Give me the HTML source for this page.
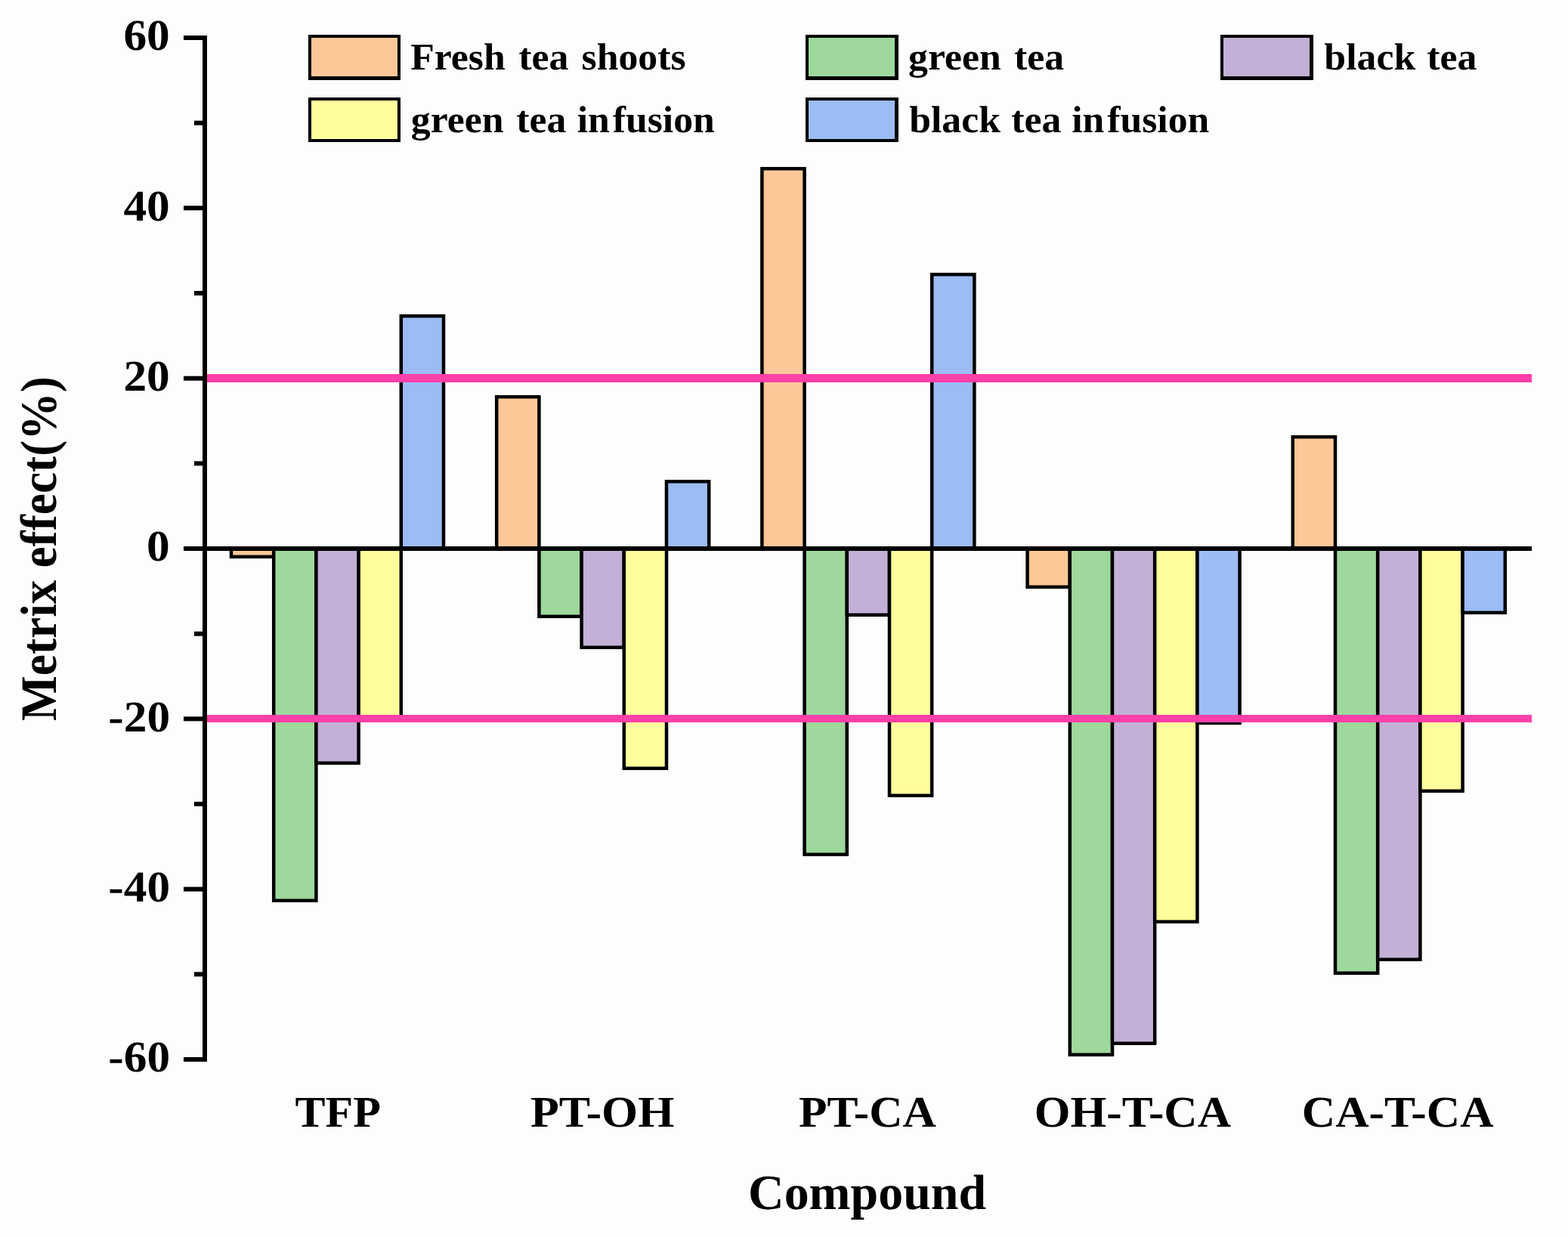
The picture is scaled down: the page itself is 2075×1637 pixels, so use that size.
<!DOCTYPE html>
<html lang="en">
<head>
<meta charset="utf-8">
<title>Metrix effect(%) by Compound</title>
<style>
html,body{margin:0;padding:0;background:#fdfdfd;}
body{width:2075px;height:1637px;overflow:hidden;}
svg{display:block;}
.t{font-family:"Liberation Serif",serif;font-weight:bold;fill:#000;text-rendering:geometricPrecision;}
</style>
</head>
<body>
<svg width="2075" height="1637" viewBox="0 0 2075 1637">
<rect width="2075" height="1637" fill="#fdfdfd"/>
<g stroke="#000" stroke-width="4.5" stroke-linejoin="miter">
<rect x="306.0" y="726.0" width="56.2" height="10.8" fill="#fcc898"/>
<rect x="362.2" y="726.0" width="56.2" height="465.8" fill="#9ed89c"/>
<rect x="418.4" y="726.0" width="56.2" height="283.8" fill="#c2b0d6"/>
<rect x="474.6" y="726.0" width="56.2" height="224.8" fill="#fefe9c"/>
<rect x="530.8" y="418.2" width="56.2" height="307.8" fill="#9cbcf4"/>
<rect x="657.2" y="525.2" width="56.2" height="200.8" fill="#fcc898"/>
<rect x="713.4" y="726.0" width="56.2" height="89.8" fill="#9ed89c"/>
<rect x="769.6" y="726.0" width="56.2" height="130.8" fill="#c2b0d6"/>
<rect x="825.8" y="726.0" width="56.2" height="290.8" fill="#fefe9c"/>
<rect x="882.0" y="637.2" width="56.2" height="88.8" fill="#9cbcf4"/>
<rect x="1008.4" y="223.2" width="56.2" height="502.8" fill="#fcc898"/>
<rect x="1064.6" y="726.0" width="56.2" height="404.8" fill="#9ed89c"/>
<rect x="1120.8" y="726.0" width="56.2" height="87.8" fill="#c2b0d6"/>
<rect x="1177.0" y="726.0" width="56.2" height="326.8" fill="#fefe9c"/>
<rect x="1233.2" y="363.2" width="56.2" height="362.8" fill="#9cbcf4"/>
<rect x="1359.6" y="726.0" width="56.2" height="50.8" fill="#fcc898"/>
<rect x="1415.8" y="726.0" width="56.2" height="669.8" fill="#9ed89c"/>
<rect x="1472.0" y="726.0" width="56.2" height="654.8" fill="#c2b0d6"/>
<rect x="1528.2" y="726.0" width="56.2" height="493.8" fill="#fefe9c"/>
<rect x="1584.4" y="726.0" width="56.2" height="230.8" fill="#9cbcf4"/>
<rect x="1710.8" y="578.2" width="56.2" height="147.8" fill="#fcc898"/>
<rect x="1767.0" y="726.0" width="56.2" height="561.8" fill="#9ed89c"/>
<rect x="1823.2" y="726.0" width="56.2" height="543.8" fill="#c2b0d6"/>
<rect x="1879.4" y="726.0" width="56.2" height="320.8" fill="#fefe9c"/>
<rect x="1935.6" y="726.0" width="56.2" height="84.8" fill="#9cbcf4"/>
</g>
<rect x="274" y="495" width="1753" height="11" fill="#ff40a8"/>
<rect x="274" y="946" width="1753" height="10" fill="#ff40a8"/>
<g fill="#000">
<rect x="268" y="47" width="6" height="1358"/>
<rect x="243" y="723" width="1784" height="6"/>
<rect x="243" y="47.0" width="26" height="6"/>
<rect x="243" y="272.3" width="26" height="6"/>
<rect x="243" y="497.7" width="26" height="6"/>
<rect x="243" y="948.3" width="26" height="6"/>
<rect x="243" y="1173.7" width="26" height="6"/>
<rect x="243" y="1399.0" width="26" height="6"/>
<rect x="257" y="159.7" width="12" height="6"/>
<rect x="257" y="385.0" width="12" height="6"/>
<rect x="257" y="610.3" width="12" height="6"/>
<rect x="257" y="835.7" width="12" height="6"/>
<rect x="257" y="1061.0" width="12" height="6"/>
<rect x="257" y="1286.3" width="12" height="6"/>
</g>
<rect x="408" y="46" width="122" height="60" fill="#000"/>
<rect x="412" y="50" width="114" height="51" fill="#fcc898"/>
<rect x="1066" y="46" width="123" height="60" fill="#000"/>
<rect x="1070" y="50" width="114" height="51" fill="#9ed89c"/>
<rect x="1615" y="46" width="123" height="60" fill="#000"/>
<rect x="1619" y="50" width="114" height="51" fill="#c2b0d6"/>
<rect x="408" y="129" width="122" height="59" fill="#000"/>
<rect x="412" y="133" width="114" height="51" fill="#fefe9c"/>
<rect x="1066" y="129" width="123" height="59" fill="#000"/>
<rect x="1070" y="133" width="114" height="51" fill="#9cbcf4"/>
<text class="t" font-size="50" transform="scale(1.0353,1)" y="92" xml:space="preserve"><tspan x="524.66">Fresh </tspan><tspan x="662.85">tea </tspan><tspan x="743.29">shoots</tspan></text>
<text class="t" font-size="50" transform="scale(1.0353,1)" y="92" xml:space="preserve"><tspan x="1161.07">green </tspan><tspan x="1296.27">tea</tspan></text>
<text class="t" font-size="50" transform="scale(1.0353,1)" y="92" xml:space="preserve"><tspan x="1692.61">black </tspan><tspan x="1823.92">tea</tspan></text>
<text class="t" font-size="50" transform="scale(1.0353,1)" y="175" xml:space="preserve"><tspan x="525.29">green </tspan><tspan x="660.05">tea </tspan><tspan x="737.64">in</tspan><tspan x="783.04">fusion</tspan></text>
<text class="t" font-size="50" transform="scale(1.0353,1)" y="175" xml:space="preserve"><tspan x="1162.15">black </tspan><tspan x="1292.69">tea </tspan><tspan x="1369.86">in</tspan><tspan x="1415.20">fusion</tspan></text>
<text class="t" font-size="58" transform="scale(1.0355,1)" x="377.17" y="1491">TFP</text>
<text class="t" font-size="58" transform="scale(1.0678,1)" x="657.37" y="1491">PT-OH</text>
<text class="t" font-size="58" transform="scale(1.0585,1)" x="998.55" y="1491">PT-CA</text>
<text class="t" font-size="58" transform="scale(1.0576,1)" x="1294.26" y="1491">OH-T-CA</text>
<text class="t" font-size="58" transform="scale(1.0593,1)" x="1626.34" y="1491">CA-T-CA</text>
<text class="t" font-size="65.5" transform="scale(1.0065,1)" x="983.63" y="1600">Compound</text>
<text class="t" font-size="58" transform="scale(1.0575,1)" x="154.50" y="66.3">60</text>
<text class="t" font-size="58" transform="scale(1.0575,1)" x="154.50" y="291.6">40</text>
<text class="t" font-size="58" transform="scale(1.0575,1)" x="154.50" y="517.0">20</text>
<text class="t" font-size="58" transform="scale(1.0575,1)" x="183.50" y="742.3">0</text>
<text class="t" font-size="58" transform="scale(1.0575,1)" x="135.50" y="967.6">-20</text>
<text class="t" font-size="58" transform="scale(1.0575,1)" x="135.50" y="1193.0">-40</text>
<text class="t" font-size="58" transform="scale(1.0575,1)" x="135.50" y="1418.3">-60</text>
<text class="t" font-size="66" transform="translate(74.1,953) rotate(-90) scale(0.9605,1.025)" x="-1" y="0">Metrix effect(%)</text>
</svg>
</body>
</html>
